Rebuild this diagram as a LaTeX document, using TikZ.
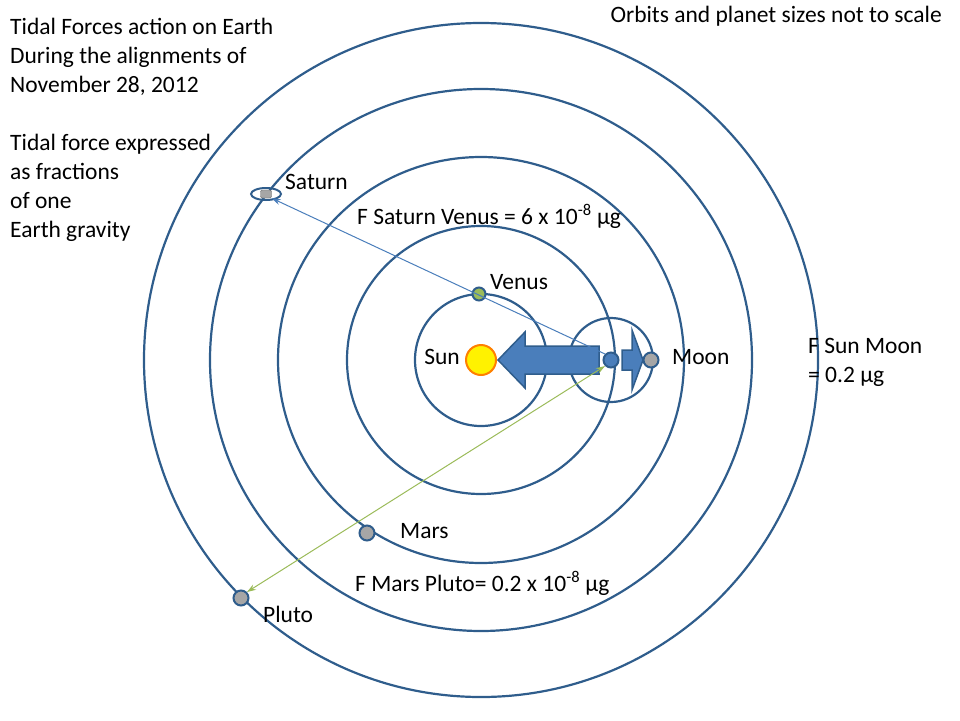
\documentclass[tikz,border=0pt]{standalone}
\usepackage{fontspec}
\setmainfont{Carlito}
\usetikzlibrary{arrows.meta}
\begin{document}
\begin{tikzpicture}[x=1pt,y=-1pt,
 orb/.style={draw=orbc,line width=2.2pt},
 pl/.style={circle,draw=orbc,line width=2pt,minimum size=15pt,inner sep=0pt},
 lbl/.style={font=\fontsize{23.5}{29}\selectfont,anchor=west,inner sep=0pt}]
\definecolor{orbc}{HTML}{2F5D8C}
\definecolor{blu}{HTML}{4A7EBB}
\definecolor{grn}{HTML}{9BBB59}
\useasboundingbox (0,0) rectangle (960,720);
\coordinate (S) at (481,360);
\foreach \r in {66,134,203,271,337} \draw[orb] (S) circle (\r);
\draw[orb] (611,360) circle (42);
\draw[orbc,fill=blu,line width=1.5pt] (498,360) -- (525,332) -- (525,346) -- (599,346) -- (599,374) -- (525,374) -- (525,388) -- cycle;
\draw[orbc,fill=blu,line width=1.5pt] (622,350) -- (632,350) -- (632,330) -- (643,360) -- (632,390) -- (632,370) -- (622,370) -- cycle;
\node[circle,draw=orange,fill=yellow,line width=2pt,minimum size=30pt,inner sep=0pt] (sun) at (S) {};
\node[pl,fill=blu] (earth) at (611,360) {};
\node[pl,fill=gray!70] (moon) at (651,360) {};
\node[pl,fill=grn,minimum size=13pt] (venus) at (479,294) {};
\node[pl,fill=gray!70] (mars) at (367,533) {};
\node[pl,fill=gray!70] (pluto) at (241,598) {};
\draw[orbc,line width=2pt] (266,194) ellipse (15 and 6);
\node[draw=gray!80!black,fill=gray!70,rounded corners=2pt,minimum width=11pt,minimum height=8pt,inner sep=0pt] (saturn) at (266,194) {};
\draw[blu,-{Stealth[length=9pt,width=6pt]},line width=1pt] (earth.north west) -- (saturn.south east);
\draw[grn,{Stealth[length=9pt,width=6pt]}-{Stealth[length=9pt,width=6pt]},line width=1pt] (earth.south west) -- (pluto.north east);
\node[lbl,align=left,anchor=north west] at (10,18) {Tidal Forces action on Earth\\During the alignments of\\November 28, 2012};
\node[lbl,align=left,anchor=north west] at (10,134) {Tidal force expressed\\as fractions\\of one\\Earth gravity};
\node[lbl,anchor=north east] at (942,6) {Orbits and planet sizes not to scale};
\node[lbl] at (285,182) {Saturn};
\node[lbl] at (357,216) {F Saturn Venus = 6 x 10\textsuperscript{-8} µg};
\node[lbl] at (490,282) {Venus};
\node[lbl,anchor=east] at (460,357) {Sun};
\node[lbl] at (672,357) {Moon};
\node[lbl,align=left,anchor=north west] at (808,338) {F Sun Moon\\= 0.2 µg};
\node[lbl] at (400,531) {Mars};
\node[lbl] at (355,583) {F Mars Pluto= 0.2 x 10\textsuperscript{-8} µg};
\node[lbl] at (263,614) {Pluto};
\end{tikzpicture}
\end{document}
